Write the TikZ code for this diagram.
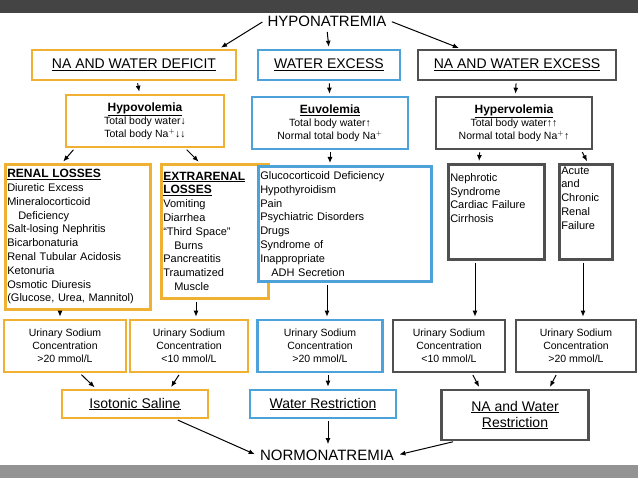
\documentclass[tikz,border=0pt]{standalone}
\usepackage{fontspec}
\setmainfont{Liberation Sans}
\usetikzlibrary{arrows.meta}
\definecolor{orng}{HTML}{F0B132}
\definecolor{blu}{HTML}{4DA3D9}
\definecolor{gry}{HTML}{505050}
\tikzset{
  box/.style={draw, line width=2.6pt, fill=white, align=center, inner sep=2pt,
    font=\fontsize{10.5}{13}\selectfont},
  cause/.style={box, align=left, anchor=north west, font=\fontsize{11}{13.8}\selectfont},
  head/.style={box, font=\fontsize{14}{16}\selectfont},
  arr/.style={-{Latex[length=6pt,width=5pt]}, line width=1pt, shorten >=2pt, shorten <=2pt},
}
\newcommand{\ul}[1]{\underline{#1}}
\newcommand{\ttl}[1]{{\fontsize{12}{14}\selectfont\textbf{\ul{#1}}}}
\begin{document}
\begin{tikzpicture}[x=1pt,y=-1pt]
\useasboundingbox (0,0) rectangle (638,478);
\fill[white] (0,0) rectangle (638,478);
\fill[gry!85!black] (0,0) rectangle (638,13);
\fill[gray!85] (0,465) rectangle (638,478);

% top and bottom
\node[font=\fontsize{15}{17}\selectfont] (hypo) at (327,21) {HYPONATREMIA};
\node[font=\fontsize{15}{17}\selectfont] (normo) at (327,455) {NORMONATREMIA};

% first row
\node[head, draw=orng, minimum width=204pt, minimum height=30pt] (deficit) at (134,65) {\ul{NA AND WATER DEFICIT}};
\node[head, draw=blu, minimum width=142pt, minimum height=30pt] (excess) at (329,65) {\ul{WATER EXCESS}};
\node[head, draw=gry, minimum width=198pt, minimum height=30pt] (naexcess) at (517,65) {\ul{NA AND WATER EXCESS}};

% volemia
\node[box, draw=orng, minimum width=158pt, minimum height=52pt] (hypov) at (145,121)
  {\ttl{Hypovolemia}\\Total body water↓\\Total body Na$^+$↓↓};
\node[box, draw=blu, minimum width=156pt, minimum height=52pt] (euv) at (330,123)
  {\ttl{Euvolemia}\\Total body water↑\\Normal total body Na$^+$};
\node[box, draw=gry, minimum width=156pt, minimum height=52pt] (hyperv) at (514,123)
  {\ttl{Hypervolemia}\\Total body water↑↑\\Normal total body Na$^+$↑};

% causes
\node[cause, draw=orng, text width=141pt, minimum height=145pt] (renal) at (4,163)
  {\ttl{RENAL LOSSES}\\Diuretic Excess\\Mineralocorticoid\\\quad Deficiency\\Salt-losing Nephritis\\Bicarbonaturia\\Renal Tubular Acidosis\\Ketonuria\\Osmotic Diuresis\\(Glucose, Urea, Mannitol)};
\node[cause, draw=orng, text width=103pt, minimum height=134pt] (extra) at (160,163)
  {\ttl{EXTRARENAL}\\\ttl{LOSSES}\\Vomiting\\Diarrhea\\“Third Space”\\\quad Burns\\Pancreatitis\\Traumatized\\\quad Muscle};
\node[cause, draw=blu, text width=169pt, minimum height=115pt] (gluco) at (257,165)
  {Glucocorticoid Deficiency\\Hypothyroidism\\Pain\\Psychiatric Disorders\\Drugs\\Syndrome of\\Inappropriate\\\quad ADH Secretion};
\node[cause, draw=gry, text width=92pt, minimum height=95pt] (nephr) at (447,163)
  {Nephrotic\\Syndrome\\Cardiac Failure\\Cirrhosis\\\mbox{}\\\mbox{}};
\node[cause, draw=gry, text width=49pt, minimum height=95pt] (acute) at (558,163)
  {Acute and\\Chronic\\Renal\\Failure\\\mbox{}\\\mbox{}};

% urinary sodium
\node[box, draw=orng, minimum width=122pt, minimum height=52pt] (una) at (65,346) {Urinary Sodium\\Concentration\\>20 mmol/L};
\node[box, draw=orng, minimum width=118pt, minimum height=52pt] (unb) at (189,346) {Urinary Sodium\\Concentration\\<10 mmol/L};
\node[box, draw=blu, minimum width=125pt, minimum height=52pt] (unc) at (320,346) {Urinary Sodium\\Concentration\\>20 mmol/L};
\node[box, draw=gry, minimum width=112pt, minimum height=52pt] (und) at (449,346) {Urinary Sodium\\Concentration\\<10 mmol/L};
\node[box, draw=gry, minimum width=120pt, minimum height=52pt] (une) at (576,346) {Urinary Sodium\\Concentration\\>20 mmol/L};

% treatment
\node[head, draw=orng, minimum width=146pt, minimum height=28pt] (saline) at (135,404) {\ul{Isotonic Saline}};
\node[head, draw=blu, minimum width=146pt, minimum height=28pt] (water) at (323,404) {\ul{Water Restriction}};
\node[head, draw=gry, minimum width=147pt, minimum height=50pt] (narestr) at (515,415) {\ul{NA and Water}\\\ul{Restriction}};

% connectors
\draw[arr] (hypo.west) -- ([xshift=-18pt]deficit.north east);
\draw[arr] (hypo.south) -- (excess.north);
\draw[arr] (hypo.east) -- ([xshift=44pt]naexcess.north west);
\draw[arr] (deficit) -- (hypov);
\draw[arr] (excess) -- (euv);
\draw[arr] (naexcess) -- (hyperv);
\draw[arr] ([xshift=10pt]hypov.south west) -- ([xshift=58pt]renal.north west);
\draw[arr] ([xshift=-40pt]hypov.south east) -- ([xshift=40pt]extra.north west);
\draw[arr] (euv) -- (gluco.north -| euv);
\draw[arr] ([xshift=45pt]hyperv.south west) -- ([xshift=32pt]nephr.north west);
\draw[arr] ([xshift=-12pt]hyperv.south east) -- ([xshift=30pt]acute.north west);
\draw[arr] (renal.south -| 60,0) -- (una.north -| 60,0);
\draw[arr] (extra.south -| 196,0) -- (unb.north -| 196,0);
\draw[arr] (gluco.south -| 327,0) -- (unc.north -| 327,0);
\draw[arr] (nephr.south -| 475,0) -- (und.north -| 475,0);
\draw[arr] (acute.south -| 583,0) -- (une.north -| 583,0);
\draw[arr] (una.south -| 80,0) -- (saline.north -| 96,0);
\draw[arr] (unb.south -| 180,0) -- (saline.north -| 170,0);
\draw[arr] (unc.south -| 328,0) -- (water.north -| 328,0);
\draw[arr] (und.south -| 472,0) -- (narestr.north -| 480,0);
\draw[arr] (une.south -| 557,0) -- (narestr.north -| 549,0);
\draw[arr] (saline.south -| 176,0) -- (normo.west);
\draw[arr] (water.south -| 328,0) -- (normo.north -| 328,0);
\draw[arr] (narestr.south -| 455,0) -- (normo.east);
\end{tikzpicture}
\end{document}
